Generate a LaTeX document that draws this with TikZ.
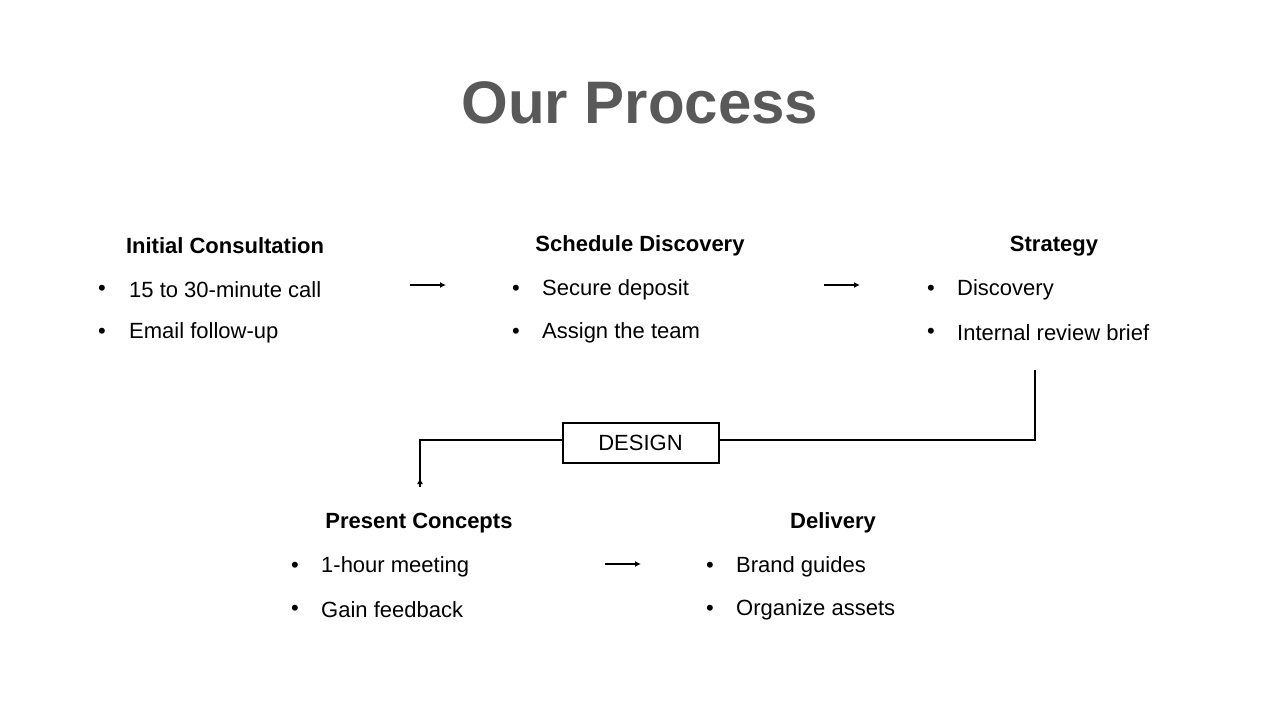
\documentclass[tikz,border=0pt]{standalone}
\usepackage{fontspec}
\setmainfont{Liberation Sans}
\usetikzlibrary{arrows.meta}
\definecolor{titlegray}{HTML}{595959}
\begin{document}
\begin{tikzpicture}[x=1pt,y=-1pt,
  head/.style={font=\fontsize{22}{24}\selectfont\bfseries, inner sep=0pt},
  item/.style={font=\fontsize{22}{24}\selectfont, inner sep=0pt, anchor=west},
  dot/.style={font=\fontsize{22}{24}\selectfont, inner sep=0pt},
  flow/.style={line width=1.6pt, -{Latex[length=6pt,width=6pt]}},
  conn/.style={line width=2.2pt}]
\useasboundingbox (0,0) rectangle (1280,720);
\node[font=\fontsize{60}{64}\selectfont\bfseries, text=titlegray, inner sep=0pt] (title) at (640,103) {Our Process};
% row 1
\node[head] (h1) at (225,246) {Initial Consultation};
\node[dot] (b11) at (102,290) {•}; \node[item] (t11) at (129,290) {15 to 30-minute call};
\node[dot] (b12) at (102,333) {•}; \node[item] (t12) at (129,333) {Email follow-up};
\node[head] (h2) at (640,246) {Schedule Discovery};
\node[dot] (b21) at (516,290) {•}; \node[item] (t21) at (542,290) {Secure deposit};
\node[dot] (b22) at (516,333) {•}; \node[item] (t22) at (542,333) {Assign the team};
\node[head] (h3) at (1054,246) {Strategy};
\node[dot] (b31) at (931,290) {•}; \node[item] (t31) at (957,290) {Discovery};
\node[dot] (b32) at (931,333) {•}; \node[item] (t32) at (957,333) {Internal review brief};
\coordinate (a1s) at (410,285); \coordinate (a1e) at (446,285);
\coordinate (a2s) at (824,285); \coordinate (a2e) at (860,285);
\draw[flow] (a1s) -- (a1e);
\draw[flow] (a2s) -- (a2e);
% design connector
\node[draw, line width=2pt, minimum width=156pt, minimum height=40pt, inner sep=0pt,
  font=\fontsize{22}{24}\selectfont] (design) at (640.5,443) {DESIGN};
\coordinate (c1) at (1035,370); \coordinate (c2) at (1035,440);
\coordinate (c3) at (420,440); \coordinate (c4) at (420,478);
\draw[conn] (c1) -- (c2) -- (design.east |- c2);
\draw[conn] (design.west |- c3) -- (c3) -- ([yshift=-8pt]c4);
\draw[line width=1.6pt, -{Latex[length=6pt,width=6pt]}] ([yshift=-9pt]c4) -- (c4);
% row 2
\node[head] (h4) at (419,523) {Present Concepts};
\node[dot] (b41) at (295,567) {•}; \node[item] (t41) at (321,567) {1-hour meeting};
\node[dot] (b42) at (295,610) {•}; \node[item] (t42) at (321,610) {Gain feedback};
\node[head] (h5) at (833,523) {Delivery};
\node[dot] (b51) at (710,567) {•}; \node[item] (t51) at (736,567) {Brand guides};
\node[dot] (b52) at (710,610) {•}; \node[item] (t52) at (736,610) {Organize assets};
\coordinate (a3s) at (605,564); \coordinate (a3e) at (641,564);
\draw[flow] (a3s) -- (a3e);
\end{tikzpicture}
\end{document}
